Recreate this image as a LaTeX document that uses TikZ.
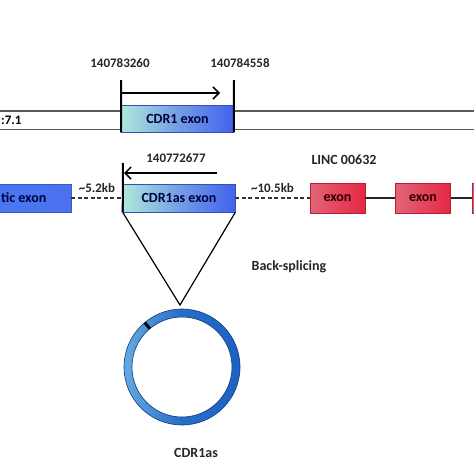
\documentclass[tikz,border=0pt]{standalone}
\usepackage{fontspec}
\setmainfont{Carlito}
\usetikzlibrary{arrows.meta,calc}
\definecolor{aqua}{RGB}{175,232,218}
\definecolor{exblue}{RGB}{66,98,236}
\definecolor{ticblue}{RGB}{76,112,240}
\definecolor{exred}{RGB}{228,40,68}
\definecolor{exrose}{RGB}{226,100,118}
\definecolor{ringblue}{RGB}{28,98,196}
\definecolor{ringlight}{RGB}{100,170,225}
\begin{document}
\begin{tikzpicture}
  [x=1pt,y=-1pt,
   numtext/.style={font=\bfseries\fontsize{13}{15}\selectfont,text=black!85},
   cdrbox/.style={rectangle,draw=exblue!80!black,line width=0.6pt,left color=aqua,right color=exblue,
     middle color=exblue!55!aqua,minimum width=112pt,minimum height=27pt,inner sep=0pt,
     font=\bfseries\fontsize{14}{16}\selectfont,text=blue!25!black},
   redbox/.style={rectangle,draw=exred!80!black,line width=0.6pt,left color=exrose,right color=exred,
     minimum width=55pt,minimum height=30pt,inner sep=0pt,
     font=\bfseries\fontsize{14}{16}\selectfont,text=red!20!black},
   bar/.style={line width=2pt,black},
   band/.style={line width=1.8pt,black!65},
   gap/.style={line width=1.4pt,black!80,dash pattern=on 4pt off 2.5pt}]
\useasboundingbox (0,0) rectangle (474,474);
% genomic band
\coordinate (bl1) at (0,111);   \coordinate (br1) at (474,111);
\coordinate (bl2) at (0,129.5); \coordinate (br2) at (474,129.5);
\draw[band] (bl1) -- (br1);
\draw[band] (bl2) -- (br2);
\node at (0,120) (chr) [anchor=west,inner sep=1pt,font=\bfseries\fontsize{13}{15}\selectfont] {:7.1};
\node at (177.5,118.5) (cdr1) [cdrbox] {CDR1 exon};
\coordinate (t1) at (121,80); \coordinate (t2) at (234,80);
\draw[bar] (t1) -- (cdr1.south west);
\draw[bar] (t2) -- (cdr1.south east);
\coordinate (a1) at (121,93); \coordinate (a2) at (220,93);
\draw[line width=1.5pt,-{Straight Barb[length=6pt,width=12pt]}] (a1) -- (a2);
\node at (120,63) (p1) [numtext] {140783260};
\node at (240,63) (p2) [numtext] {140784558};
% second row
\node at (10.5,198) (tic) [rectangle,draw=ticblue!80!black,line width=0.6pt,left color=ticblue!90!cyan,right color=ticblue,
  minimum width=121pt,minimum height=28pt] {};
\node at (0,198) (tictext) [anchor=west,inner sep=1pt,font=\bfseries\fontsize{14}{16}\selectfont,text=blue!25!black] {tic exon};
\node at (179,198) (cdr1as) [cdrbox,minimum height=28pt] {CDR1as exon};
\coordinate (t3) at (123,163);
\draw[bar] (t3) -- (cdr1as.south west);
\coordinate (a3) at (217,173); \coordinate (a4) at (124,173);
\draw[line width=1.5pt,-{Straight Barb[length=6pt,width=12pt]}] (a3) -- (a4);
\node at (176,158) (p3) [numtext] {140772677};
\node at (337.5,198) (ex1) [redbox] {exon};
\node at (423,198) (ex2) [redbox] {exon};
\node at (500,198) (ex3) [redbox] {};
\draw[gap] (tic.east) -- (cdr1as.west) node[midway,above=1pt,numtext] {\textasciitilde5.2kb};
\draw[gap] (cdr1as.east) -- (ex1.west) node[midway,above=1pt,numtext] {\textasciitilde10.5kb};
\draw[line width=1.2pt,black!85] (ex1.east) -- (ex2.west);
\draw[line width=1.2pt,black!85] (ex2.east) -- (ex3.west);
\node at (344,160) (linc) [numtext,font=\bfseries\fontsize{14}{16}\selectfont] {LINC 00632};
% back-splicing
\coordinate (apex) at (180,305);
\draw[line width=1.2pt] (cdr1as.south west) -- (apex) -- (cdr1as.south east);
\node at (289,267) (bs) [numtext,font=\bfseries\fontsize{14}{16}\selectfont] {Back-splicing};
% circular RNA
\coordinate (c) at (182,367);
\shade[even odd rule,left color=ringlight,right color=ringblue,middle color=ringblue!85!ringlight]
  (c) circle (58pt) (c) circle (50pt);
\draw[ringblue!60!black,line width=0.6pt] (c) circle (58pt) (c) circle (50pt);
\draw[line width=3pt,black] ($(c)+(-130:50)$) -- ($(c)+(-130:58)$);
\node at (196,453) (circ) [numtext,font=\bfseries\fontsize{14}{16}\selectfont] {CDR1as};
\end{tikzpicture}
\end{document}
